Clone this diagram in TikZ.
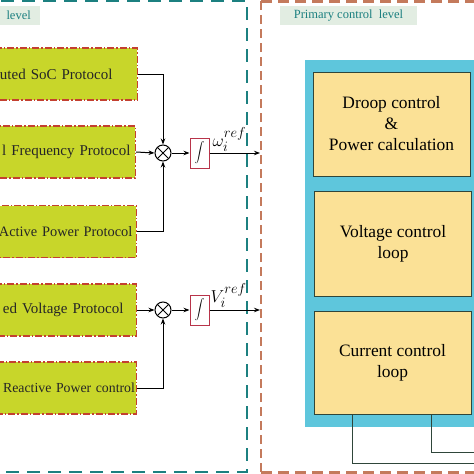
\documentclass[tikz,border=0pt]{standalone}
\usepackage{fontspec}
\setmainfont{Liberation Serif}
\usetikzlibrary{positioning, arrows.meta}
\definecolor{protogreen}{RGB}{200,214,42}
\definecolor{protored}{RGB}{196,64,48}
\definecolor{secteal}{RGB}{28,128,128}
\definecolor{primorange}{RGB}{196,122,92}
\definecolor{lvlfill}{RGB}{226,237,226}
\definecolor{loopcyan}{RGB}{94,198,220}
\definecolor{loopfill}{RGB}{251,225,150}
\definecolor{loopedge}{RGB}{47,70,58}
\definecolor{intred}{RGB}{184,52,74}

\begin{document}
\begin{tikzpicture}[
    x=1pt, y=-1pt,
    >={Stealth[length=6pt, width=4.5pt]},
    protobox/.style={rectangle, draw=protored, fill=protogreen, line width=1.1pt,
      dash pattern=on 7pt off 2pt on 1.5pt off 2pt, anchor=east, text width=200pt,
      align=right, minimum height=52pt, text=black!85, font=\fontsize{15}{18}\selectfont},
    sumnode/.style={circle, draw, line width=1pt, minimum size=16pt, inner sep=0pt,
      path picture={
        \draw[line width=0.9pt] ([shift={(45:8pt)}]path picture bounding box.center) -- ([shift={(225:8pt)}]path picture bounding box.center);
        \draw[line width=0.9pt] ([shift={(135:8pt)}]path picture bounding box.center) -- ([shift={(315:8pt)}]path picture bounding box.center);}},
    intbox/.style={rectangle, draw=intred, fill=white, line width=1pt, minimum width=19pt,
      minimum height=30pt, inner sep=0pt, font=\fontsize{14}{14}\selectfont},
    reflabel/.style={anchor=base west, inner sep=0pt, font=\fontsize{19}{19}\selectfont},
    lvlbox/.style={rectangle, fill=lvlfill, text=secteal, inner ysep=2pt, minimum height=19pt,
      font=\fontsize{12.5}{14}\selectfont},
    loopbox/.style={rectangle, draw=loopedge, fill=loopfill, line width=1pt, align=center,
      minimum width=157pt, minimum height=104pt, font=\fontsize{17.4}{21}\selectfont}
    ]
    \useasboundingbox (0,0) rectangle (474,474);
    \clip (0,0) rectangle (474,474);

    % level frames
    \draw[secteal, line width=2pt, dash pattern=on 13pt off 8pt] (-20,1) -- (247,1) -- (247,472) -- (-20,472);
    \draw[primorange, line width=1.2pt, dash pattern=on 9pt off 5pt] (261,1) -- (261,472);
    \draw[primorange, line width=3pt, dash pattern=on 11pt off 6pt] (261,1) -- (490,1);
    \draw[primorange, line width=3pt, dash pattern=on 11pt off 6pt] (261,472) -- (490,472);

    \node[lvlbox, anchor=east, text width=60pt, align=right, inner xsep=9pt] (seclvl) at (40,15) {level};
    \node[lvlbox, minimum width=137pt] (primlvl) at (348.5,15.5) {Primary control~~level};

    % secondary protocols
    \node[protobox, inner xsep=25pt] (soc)   at (138,74)  {uted SoC Protocol};
    \node[protobox, inner xsep=5pt]  (freq)  at (136,152) {l Frequency Protocol};
    \node[protobox, inner xsep=4pt, font=\fontsize{14.4}{18}\selectfont]  (act)   at (137,231.5) {Active Power Protocol};
    \node[protobox, inner xsep=13pt] (volt)  at (137,310) {ed Voltage Protocol};
    \node[protobox, inner xsep=1.5pt, font=\fontsize{13.8}{18}\selectfont]  (react) at (137,388) {Reactive Power control};

    \node[sumnode] (sumw) at (163,153) {};
    \node[intbox]  (intw) [right=18pt of sumw] {$\displaystyle\int$};
    \node[sumnode] (sumv) at (163,310) {};
    \node[intbox]  (intv) [right=18pt of sumv] {$\displaystyle\int$};
    \coordinate (outw) at (260,153);
    \coordinate (outv) at (260,310);

    \draw[->, line width=1pt] (soc.east) -| (sumw.north);
    \draw[->, line width=1pt] (freq.east) -- (sumw.west);
    \draw[->, line width=1pt] (act.east) -| (sumw.south);
    \draw[->, line width=1pt] (sumw.east) -- (intw.west);
    \draw[->, line width=1pt] (intw.east) -- (outw);
    \draw[->, line width=1pt] (volt.east) -- (sumv.west);
    \draw[->, line width=1pt] (react.east) -| (sumv.south);
    \draw[->, line width=1pt] (sumv.east) -- (intv.west);
    \draw[->, line width=1pt] (intv.east) -- (outv);

    \node[reflabel] (omref) at ([xshift=3pt, yshift=7pt]intw.east) {$\omega_i^{ref}$};
    \node[reflabel] (vref)  at ([xshift=1pt, yshift=8pt]intv.east) {$V_i^{ref}$};

    % primary control loops
    \fill[loopcyan] (305,60) rectangle (480,427);
    \node[loopbox] (droop) at (391.5,124) {Droop control\\\&\\Power calculation};
    \node[loopbox, minimum height=105pt] (vloop) at (393,243.5) {Voltage control\\loop};
    \node[loopbox, minimum height=103pt] (cloop) at (392.5,362.5) {Current control\\loop};

    \coordinate (fbouter) at (480,463);
    \coordinate (fbinner) at (480,452);
    \draw[line width=1pt, loopedge] ([xshift=-40.5pt]cloop.south) |- (fbouter);
    \draw[line width=1pt, loopedge] ([xshift=38.5pt]cloop.south) |- (fbinner);
  \end{tikzpicture}
\end{document}
